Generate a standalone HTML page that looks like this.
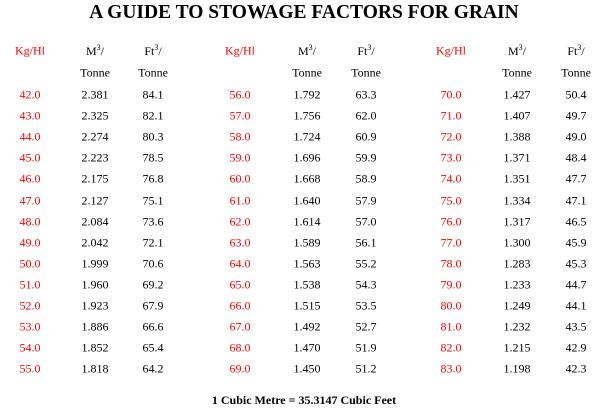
<!DOCTYPE html>
<html><head><meta charset="utf-8"><style>
body{margin:0;width:608px;height:412px;background:#fff;position:relative;overflow:hidden;font-family:"Liberation Serif",serif;}
.t{position:absolute;font-size:12px;color:#000;transform:translate(-50%,-50%);white-space:nowrap;}
.r{color:#ff0000;}
#title{position:absolute;left:0;width:608px;top:2px;text-align:center;font-weight:bold;font-size:19.5px;}
#foot{position:absolute;left:0;width:608px;top:393px;text-align:center;font-weight:bold;font-size:12px;}
sup{font-size:8px;}
</style></head><body>
<div id="title">A GUIDE TO STOWAGE FACTORS FOR GRAIN</div>
<div id="foot">1 Cubic Metre = 35.3147 Cubic Feet</div>
<script>
const kg1=["42.0","43.0","44.0","45.0","46.0","47.0","48.0","49.0","50.0","51.0","52.0","53.0","54.0","55.0"];
const m1=["2.381","2.325","2.274","2.223","2.175","2.127","2.084","2.042","1.999","1.960","1.923","1.886","1.852","1.818"];
const f1=["84.1","82.1","80.3","78.5","76.8","75.1","73.6","72.1","70.6","69.2","67.9","66.6","65.4","64.2"];
const kg2=["56.0","57.0","58.0","59.0","60.0","61.0","62.0","63.0","64.0","65.0","66.0","67.0","68.0","69.0"];
const m2=["1.792","1.756","1.724","1.696","1.668","1.640","1.614","1.589","1.563","1.538","1.515","1.492","1.470","1.450"];
const f2=["63.3","62.0","60.9","59.9","58.9","57.9","57.0","56.1","55.2","54.3","53.5","52.7","51.9","51.2"];
const kg3=["70.0","71.0","72.0","73.0","74.0","75.0","76.0","77.0","78.0","79.0","80.0","81.0","82.0","83.0"];
const m3=["1.427","1.407","1.388","1.371","1.351","1.334","1.317","1.300","1.283","1.233","1.249","1.232","1.215","1.198"];
const f3=["50.4","49.7","49.0","48.4","47.7","47.1","46.5","45.9","45.3","44.7","44.1","43.5","42.9","42.3"];
const groups=[[kg1,m1,f1,[30,95,153]],[kg2,m2,f2,[240,307,366]],[kg3,m3,f3,[451,517,576]]];
function put(x,y,html,cls,name){
  const d=document.createElement('div');
  d.className='t'+(cls?' '+cls:'');
  d.style.left=x+'px';d.style.top=y+'px';
  d.innerHTML=html;
  
  
  document.body.appendChild(d);
}
const y0=95,dy=21.1;
groups.forEach((g,gi)=>{
  const xs=g[3];
  put(xs[0],51,'Kg/Hl','r','header-kg-hl');
  put(xs[1],51,'M<sup>3</sup>/','','header-m3');
  put(xs[2],51,'Ft<sup>3</sup>/','','header-ft3');
  put(xs[1],73,'Tonne','','header-tonne');
  put(xs[2],73,'Tonne','','header-tonne');
  for(let i=0;i<g[0].length;i++){
    const y=y0+i*dy;
    put(xs[0],y,g[0][i],'r','kg-hl-cell');
    put(xs[1],y,g[1][i],'','m3-per-tonne-cell');
    put(xs[2],y,g[2][i],'','ft3-per-tonne-cell');
  }
});
</script>
</body></html>
